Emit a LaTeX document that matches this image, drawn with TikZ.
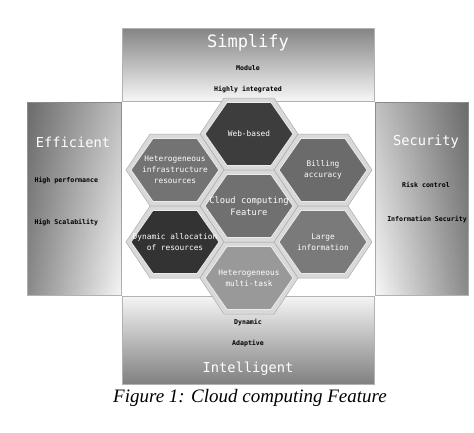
\documentclass[tikz,border=0pt]{standalone}
\usepackage{fontspec}
\setmainfont{Liberation Serif}
\newfontfamily\diagfont{DejaVu Sans Mono}
\usetikzlibrary{positioning,fadings}

% one honeycomb cell: name, x, y, fill, text
\newcommand{\hexcell}[5]{%
  \begin{scope}[shift={(#2,#3)}]
    \fill[gray!30, draw=gray!65, line width=0.5pt]
      (-49,0) -- (-25,36) -- (25,36) -- (49,0) -- (25,-36) -- (-25,-36) -- cycle;
    \fill[#4, draw=white!85!gray, line width=0.8pt]
      (-44,0) -- (-22,31.5) -- (22,31.5) -- (44,0) -- (22,-31.5) -- (-22,-31.5) -- cycle;
  \end{scope}
  \node[hextext] (#1) at (#2,#3) {#5};
}

\begin{document}
\begin{tikzpicture}[
      x=1pt, y=1pt,
      panel/.style={draw=gray!60, line width=0.5pt, inner sep=0pt, anchor=north west},
      dimtop/.style={fill=black, fill opacity=0.22, path fading=south},
      headtext/.style={text=white, font=\diagfont\fontsize{13.7}{16}\selectfont},
      itemtext/.style={font=\diagfont\bfseries\fontsize{6.6}{8}\selectfont},
      hextext/.style={text=white, align=center, font=\diagfont\fontsize{7.8}{11}\selectfont},
    ]
    \useasboundingbox[fill=white] (0,0) rectangle (474,-432);

    % four gradient panels
    \node[panel, minimum width=252, minimum height=73, top color=black!48, bottom color=gray!6] (topbox) at (122,-28) {};
    \node[panel, minimum width=94, minimum height=193, left color=black!46, right color=gray!8] (leftbox) at (27,-102) {};
    \node[panel, minimum width=93, minimum height=193, left color=gray!6, right color=black!46] (rightbox) at (375,-102) {};
    \node[panel, minimum width=252, minimum height=88, top color=gray!8, bottom color=black!50] (botbox) at (122,-296) {};
    \fill[dimtop] (leftbox.north west) rectangle (leftbox.south east);
    \fill[dimtop] (rightbox.north west) rectangle (rightbox.south east);

    \node[headtext, font=\diagfont\fontsize{17}{20}\selectfont] (simplify) at (248,-43) {Simplify};
    \node[itemtext] (module) at (248,-68) {Module};
    \node[itemtext] (integrated) at (248,-89) {Highly integrated};

    \node[headtext] (efficient) at (73,-142) {Efficient};
    \node[itemtext, anchor=west] (perf) at (31,-180) {High performance};
    \node[itemtext, anchor=west] (scal) at (31,-222) {High Scalability};

    \node[headtext] (security) at (426,-142) {Security};
    \node[itemtext] (risk) at (426,-185) {Risk control};
    \node[itemtext] (infosec) at (427,-219) {Information Security};

    \node[itemtext] (dynamic) at (248,-322) {Dynamic};
    \node[itemtext] (adaptive) at (248,-343) {Adaptive};
    \node[headtext] (intelligent) at (248,-369) {Intelligent};

    % honeycomb
    \hexcell{web}{249}{-134}{black!76}{Web-based}
    \hexcell{infra}{175}{-170}{black!55}{Heterogeneous\\infrastructure\\resources}
    \hexcell{bill}{323}{-170}{black!58}{Billing\\accuracy}
    \hexcell{large}{323}{-242}{black!52}{Large\\information}
    \hexcell{dyn}{175}{-242}{black!80}{Dynamic allocation\\of resources}
    \hexcell{multi}{249}{-278}{black!40}{Heterogeneous\\multi-task}
    \hexcell{cloud}{249}{-206}{black!56}{}
    \node[hextext, font=\diagfont\fontsize{8.8}{12}\selectfont] (feature) at (249,-206) {Cloud computing\\Feature};

    \node[font=\itshape\fontsize{19}{22}\selectfont] (caption) at (250,-398) {Figure 1: Cloud computing Feature};
  \end{tikzpicture}
\end{document}
